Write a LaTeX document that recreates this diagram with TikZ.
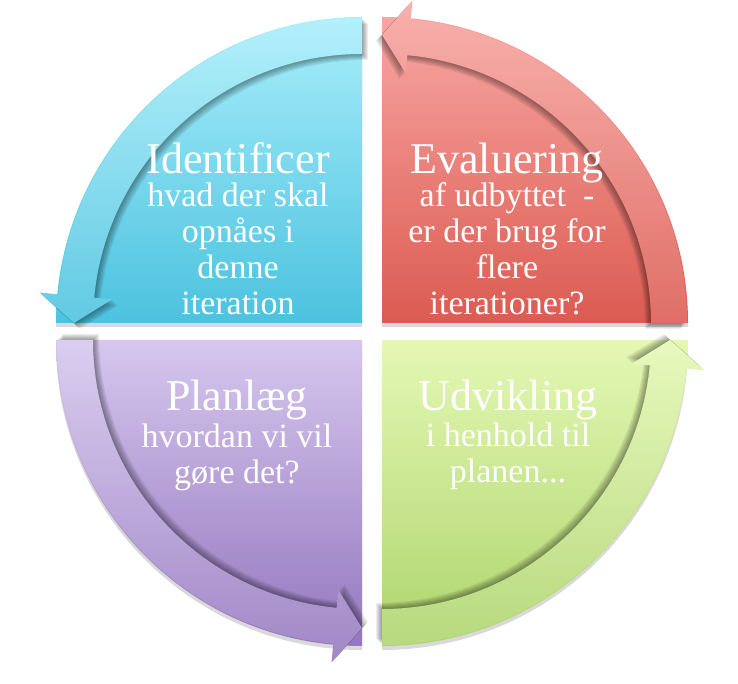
\documentclass[tikz,border=0pt]{standalone}
\usepackage{fontspec}
\setmainfont{Liberation Serif}
\usepackage{tikz}
\usetikzlibrary{calc,shadows}
\definecolor{blueT}{HTML}{A8EEFA}
\definecolor{blueB}{HTML}{4CC2DF}
\definecolor{redT}{HTML}{F8A6A2}
\definecolor{redB}{HTML}{DB5B51}
\definecolor{greenT}{HTML}{E4F8B4}
\definecolor{greenB}{HTML}{AED46D}
\definecolor{purpT}{HTML}{D6C7EE}
\definecolor{purpB}{HTML}{9477BE}
\begin{document}
\begin{tikzpicture}[x=1pt,y=1pt]
                      \tikzstyle{pie}=[drop shadow={shadow xshift=0pt,shadow yshift=-4pt,opacity=.3}]
                      \tikzstyle{bandshadow}=[black,opacity=.07]
                      \tikzstyle{title}=[text=white,anchor=base,inner sep=0pt,font=\fontsize{44}{48}\selectfont]
                      \tikzstyle{body}=[text=white,anchor=base,inner sep=0pt,align=center,font=\fontsize{34}{36}\selectfont]
                      \useasboundingbox (0,0) rectangle (738,684);
                      \coordinate (bc) at (362,361);
                      \coordinate (rc) at (382,361);
                      \coordinate (gc) at (382,344);
                      \coordinate (pc) at (362,344);
                      \shade[pie,top color=blueT,bottom color=blueB] (bc) -- ($(bc)+(90:306)$) arc[start angle=90,end angle=180,radius=306] -- cycle;
                      \shade[pie,top color=redT,bottom color=redB] (rc) -- ($(rc)+(0:306)$) arc[start angle=0,end angle=90,radius=306] -- cycle;
                      \shade[pie,top color=greenT,bottom color=greenB] (gc) -- ($(gc)+(270:306)$) arc[start angle=270,end angle=360,radius=306] -- cycle;
                      \shade[pie,top color=purpT,bottom color=purpB] (pc) -- ($(pc)+(180:306)$) arc[start angle=180,end angle=270,radius=306] -- cycle;
                      \foreach \s in {1,...,6} {
                        \fill[bandshadow] ([shift={(\s,-\s)}]bc) ++(90:305) arc[start angle=90,end angle=174.6,radius=305] -- ([shift={(\s,-\s)}]$(bc)+(174.6:324)$) -- ([shift={(\s,-\s)}]$(bc)+(180:288)$) -- ([shift={(\s,-\s)}]$(bc)+(174.6:251)$) -- ([shift={(\s,-\s)}]$(bc)+(174.6:269)$) arc[start angle=174.6,end angle=90,radius=269] -- cycle;
                        \fill[bandshadow] ([shift={(-\s,-\s)}]rc) ++(0:305) arc[start angle=0,end angle=84.6,radius=305] -- ([shift={(-\s,-\s)}]$(rc)+(84.6:324)$) -- ([shift={(-\s,-\s)}]$(rc)+(90:288)$) -- ([shift={(-\s,-\s)}]$(rc)+(84.6:251)$) -- ([shift={(-\s,-\s)}]$(rc)+(84.6:269)$) arc[start angle=84.6,end angle=0,radius=269] -- cycle;
                        \fill[bandshadow] ([shift={(-\s,\s)}]gc) ++(270:305) arc[start angle=270,end angle=354.6,radius=305] -- ([shift={(-\s,\s)}]$(gc)+(354.6:324)$) -- ([shift={(-\s,\s)}]$(gc)+(360:288)$) -- ([shift={(-\s,\s)}]$(gc)+(354.6:251)$) -- ([shift={(-\s,\s)}]$(gc)+(354.6:269)$) arc[start angle=354.6,end angle=270,radius=269] -- cycle;
                        \fill[bandshadow] ([shift={(\s,\s)}]pc) ++(180:305) arc[start angle=180,end angle=264.6,radius=305] -- ([shift={(\s,\s)}]$(pc)+(264.6:324)$) -- ([shift={(\s,\s)}]$(pc)+(270:288)$) -- ([shift={(\s,\s)}]$(pc)+(264.6:251)$) -- ([shift={(\s,\s)}]$(pc)+(264.6:269)$) arc[start angle=264.6,end angle=180,radius=269] -- cycle;
                      }
                      \shade[top color=blueT!88!white,bottom color=blueB!88!white] (bc) ++(90:305) arc[start angle=90,end angle=174.6,radius=305] -- ($(bc)+(174.6:324)$) -- ($(bc)+(180:288)$) -- ($(bc)+(174.6:251)$) -- ($(bc)+(174.6:269)$) arc[start angle=174.6,end angle=90,radius=269] -- cycle;
                      \shade[top color=redT!88!white,bottom color=redB!88!white] (rc) ++(0:305) arc[start angle=0,end angle=84.6,radius=305] -- ($(rc)+(84.6:324)$) -- ($(rc)+(90:288)$) -- ($(rc)+(84.6:251)$) -- ($(rc)+(84.6:269)$) arc[start angle=84.6,end angle=0,radius=269] -- cycle;
                      \shade[top color=greenT!88!white,bottom color=greenB!88!white] (gc) ++(270:305) arc[start angle=270,end angle=354.6,radius=305] -- ($(gc)+(354.6:324)$) -- ($(gc)+(360:288)$) -- ($(gc)+(354.6:251)$) -- ($(gc)+(354.6:269)$) arc[start angle=354.6,end angle=270,radius=269] -- cycle;
                      \shade[top color=purpT!88!white,bottom color=purpB!88!white] (pc) ++(180:305) arc[start angle=180,end angle=264.6,radius=305] -- ($(pc)+(264.6:324)$) -- ($(pc)+(270:288)$) -- ($(pc)+(264.6:251)$) -- ($(pc)+(264.6:269)$) arc[start angle=264.6,end angle=180,radius=269] -- cycle;
                      \node[title] (ident) at (238,510) {Identificer};
                      \node[body] (identtxt) at (238,369) {hvad der skal\\opnåes i\\denne\\iteration};
                      \node[title] (eval) at (507,510) {Evaluering};
                      \node[body] (evaltxt) at (507,369) {af udbyttet\ \ -\\er der brug for\\flere\\iterationer?};
                      \node[title] (plan) at (237,273) {Planlæg};
                      \node[body] (plantxt) at (237,200) {hvordan vi vil\\gøre det?};
                      \node[title] (udv) at (508,273) {Udvikling};
                      \node[body] (udvtxt) at (508,201) {i henhold til\\planen...};
                  \end{tikzpicture}
\end{document}
